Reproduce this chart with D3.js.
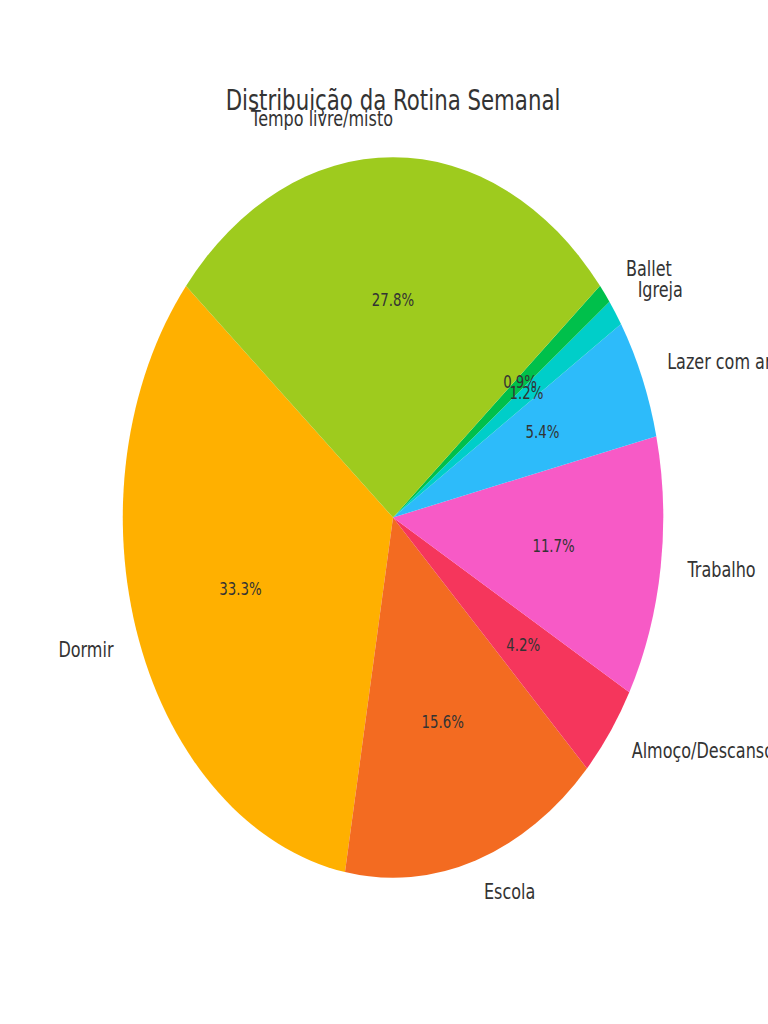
<!DOCTYPE html>
<html>
<head>
<meta charset="utf-8">
<script src="https://cdn.jsdelivr.net/npm/d3@7"></script>
<style>
  body { margin: 0; background: #fff; }
  text { font-family: "DejaVu Sans", sans-serif; fill: #333; }
</style>
</head>
<body>
<svg id="chart"></svg>
<script>
// data (percent of the week)
var labels = ["Dormir", "Escola", "Almoço/Descanso", "Trabalho", "Lazer com amigos", "Igreja", "Ballet", "Tempo livre/misto"];
var values = [33.3, 15.6, 4.2, 11.7, 5.4, 1.2, 0.9, 27.8];
var colors = ["#ffb000", "#f36b21", "#f5365c", "#f75ac6", "#2dbbfa", "#00cec9", "#00c04b", "#9ecb1e"];

var svg = d3.select("#chart")
            .attr("width", 768)
            .attr("height", 1024);

// picture was squeezed from a square figure, so draw in square space and stretch
var g = svg.append("g").attr("transform", "scale(0.96,1.28)");

var cx = 409.4, cy = 404.3, r = 281.5;
var total = d3.sum(values);

var rows = labels.map(function(l, i) { return {label: l, value: values[i], color: colors[i]}; });

// matplotlib style: start at 140deg, counter-clockwise
var start = (90 - 140) * Math.PI / 180;
var pie = d3.pie()
    .sort(null)
    .value(function(d) { return d.value; })
    .startAngle(start)
    .endAngle(start - 2 * Math.PI);

var arc = d3.arc().innerRadius(0).outerRadius(r);

var pg = g.append("g").attr("transform", "translate(" + cx + "," + cy + ")");
var arcs = pie(rows);

pg.selectAll("path")
    .data(arcs)
    .enter().append("path")
    .attr("d", arc)
    .attr("fill", function(d) { return d.data.color; });

function pos(d, k) {
    var a = (d.startAngle + d.endAngle) / 2;
    return [k * r * Math.sin(a), -k * r * Math.cos(a)];
}

// outer labels
pg.selectAll(".lbl")
    .data(arcs)
    .enter().append("text")
    .attr("class", "lbl")
    .attr("x", function(d) { return pos(d, 1.1)[0]; })
    .attr("y", function(d) { return pos(d, 1.1)[1] - 2.6; })
    .attr("dominant-baseline", "central")
    .attr("text-anchor", function(d) { return pos(d, 1.1)[0] < 0 ? "end" : "start"; })
    .style("font-size", "16.7px")
    .text(function(d) { return d.data.label; });

// percent labels
pg.selectAll(".pct")
    .data(arcs)
    .enter().append("text")
    .attr("class", "pct")
    .attr("x", function(d) { return pos(d, 0.6)[0]; })
    .attr("y", function(d) { return pos(d, 0.6)[1] - 1.5; })
    .attr("dominant-baseline", "central")
    .attr("text-anchor", "middle")
    .style("font-size", "13.9px")
    .text(function(d) { return (d.data.value / total * 100).toFixed(1) + "%"; });

// title
g.append("text")
    .attr("x", cx)
    .attr("y", 86)
    .attr("text-anchor", "middle")
    .style("font-size", "22.2px")
    .text("Distribuição da Rotina Semanal");
</script>
</body>
</html>
